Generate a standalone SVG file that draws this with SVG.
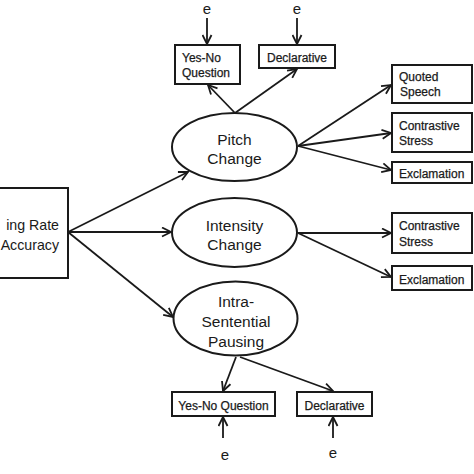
<svg xmlns="http://www.w3.org/2000/svg" width="474" height="474" viewBox="0 0 474 474">
<defs>
<marker id="ah" markerWidth="11" markerHeight="11" refX="10" refY="5.5" orient="auto" markerUnits="userSpaceOnUse">
<path d="M1,1 L10,5.5 L1,10" fill="none" stroke="#1a1a1a" stroke-width="1.8"/>
</marker>
<style>
.box{fill:#fff;stroke:#1a1a1a;stroke-width:2}
.ell{fill:#fff;stroke:#1a1a1a;stroke-width:2}
.big{font-family:"Liberation Sans",Arial,sans-serif;font-size:15.5px;fill:#1a1a1a;text-anchor:middle}
.lft{font-family:"Liberation Sans",Arial,sans-serif;font-size:14.2px;fill:#1a1a1a;text-anchor:end}
.sm{font-family:"Liberation Sans",Arial,sans-serif;font-size:12px;fill:#1a1a1a;stroke:#1a1a1a;stroke-width:0.25}
.e{font-family:"Liberation Sans",Arial,sans-serif;font-size:15px;fill:#1a1a1a;text-anchor:middle}
.c{stroke:#1a1a1a;stroke-width:1.8;fill:none;marker-end:url(#ah)}
</style>
</defs>
<rect width="474" height="474" fill="#fff"/>
<g id="connectors">
<line class="c" x1="68" y1="232" x2="188" y2="172"/>
<line class="c" x1="68" y1="232" x2="171" y2="232"/>
<line class="c" x1="68" y1="232" x2="173" y2="317"/>
<line class="c" x1="235" y1="113" x2="208" y2="85"/>
<line class="c" x1="235" y1="113" x2="297" y2="69"/>
<line class="c" x1="298" y1="146" x2="391" y2="85"/>
<line class="c" x1="298" y1="146" x2="391" y2="133"/>
<line class="c" x1="298" y1="146" x2="391" y2="170"/>
<line class="c" x1="298" y1="233" x2="391" y2="233"/>
<line class="c" x1="298" y1="233" x2="391" y2="277"/>
<line class="c" x1="236" y1="357" x2="223" y2="391"/>
<line class="c" x1="240" y1="357" x2="333" y2="391"/>
<line class="c" x1="207" y1="18" x2="207" y2="44"/>
<line class="c" x1="297" y1="18" x2="297" y2="44"/>
<line class="c" x1="223" y1="438" x2="223" y2="417"/>
<line class="c" x1="333" y1="438" x2="333" y2="417"/>
</g>
<g id="e-top-1"><text class="e" x="207" y="14">e</text></g>
<g id="e-top-2"><text class="e" x="297" y="14">e</text></g>
<g id="e-bot-1"><text class="e" x="225" y="460">e</text></g>
<g id="e-bot-2"><text class="e" x="333" y="458">e</text></g>
<g id="reading-rate">
<rect class="box" x="-60" y="188" width="128" height="90"/>
<text class="lft" x="59" y="230">ing Rate</text>
<text class="lft" x="59" y="250">Accuracy</text>
</g>
<g id="pitch-change">
<ellipse class="ell" cx="234.5" cy="147" rx="62.5" ry="34"/>
<text class="big" x="234.5" y="145">Pitch</text>
<text class="big" x="234.5" y="164">Change</text>
</g>
<g id="intensity-change">
<ellipse class="ell" cx="234.5" cy="232.5" rx="62.5" ry="34.5"/>
<text class="big" x="234.5" y="231">Intensity</text>
<text class="big" x="234.5" y="250">Change</text>
</g>
<g id="intra-sentential">
<ellipse class="ell" cx="235.5" cy="318.5" rx="62" ry="37"/>
<text class="big" x="236" y="307">Intra-</text>
<text class="big" x="236" y="327">Sentential</text>
<text class="big" x="236" y="347">Pausing</text>
</g>
<g id="top-yesno">
<rect class="box" x="175" y="45" width="65" height="39"/>
<text class="sm" x="182" y="62">Yes-No</text>
<text class="sm" x="182" y="77">Question</text>
</g>
<g id="top-declarative">
<rect class="box" x="259" y="45" width="76" height="23"/>
<text class="sm" x="297" y="62" text-anchor="middle">Declarative</text>
</g>
<g id="quoted-speech">
<rect class="box" x="392" y="65" width="80" height="38"/>
<text class="sm" x="399" y="81">Quoted</text>
<text class="sm" x="400" y="96">Speech</text>
</g>
<g id="pitch-contrastive">
<rect class="box" x="392" y="113" width="80" height="39"/>
<text class="sm" x="399" y="130">Contrastive</text>
<text class="sm" x="399" y="145">Stress</text>
</g>
<g id="pitch-exclamation">
<rect class="box" x="392" y="162" width="80" height="21"/>
<text class="sm" x="399" y="178">Exclamation</text>
</g>
<g id="intensity-contrastive">
<rect class="box" x="392" y="213" width="80" height="40"/>
<text class="sm" x="399" y="230">Contrastive</text>
<text class="sm" x="399" y="246">Stress</text>
</g>
<g id="intensity-exclamation">
<rect class="box" x="392" y="266" width="80" height="24"/>
<text class="sm" x="399" y="284">Exclamation</text>
</g>
<g id="bottom-yesno">
<rect class="box" x="172" y="392" width="103" height="24"/>
<text class="sm" x="223.5" y="410" text-anchor="middle">Yes-No Question</text>
</g>
<g id="bottom-declarative">
<rect class="box" x="297" y="392" width="75" height="24"/>
<text class="sm" x="334.5" y="410" text-anchor="middle">Declarative</text>
</g>
</svg>
